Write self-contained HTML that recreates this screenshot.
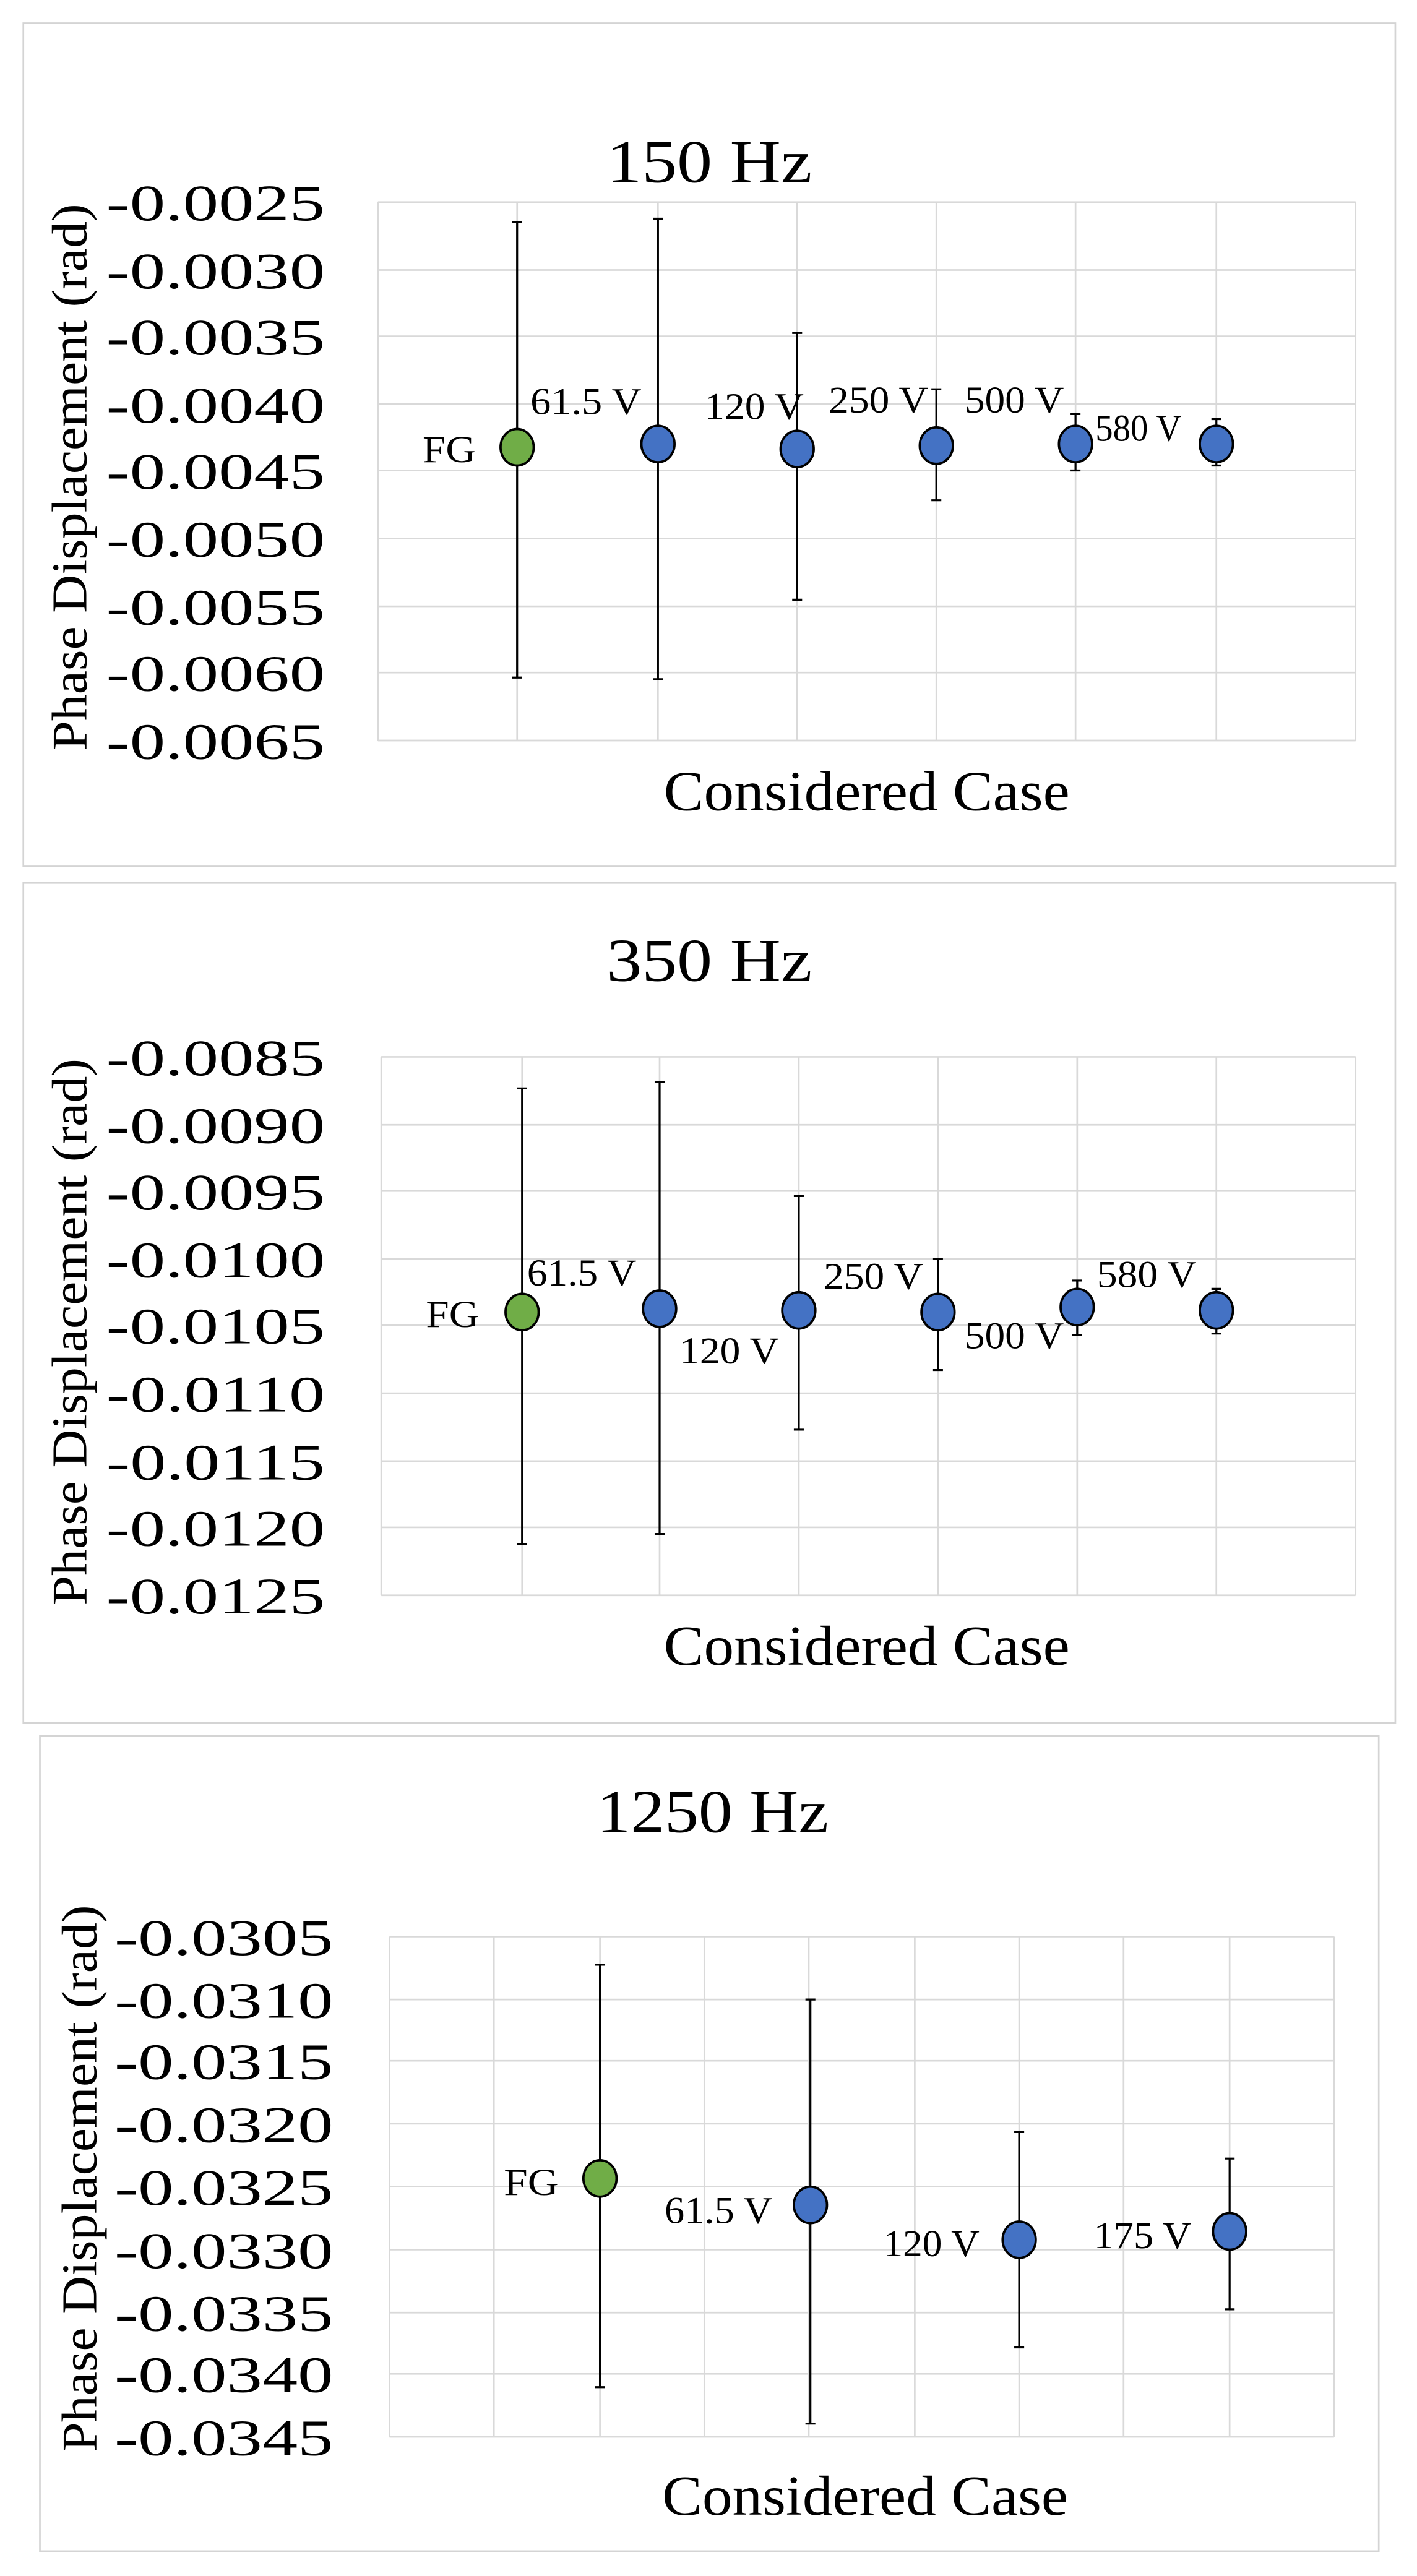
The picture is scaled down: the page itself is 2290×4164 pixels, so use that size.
<!DOCTYPE html>
<html><head><meta charset="utf-8"><style>html,body{margin:0;padding:0;background:#fff}svg{display:block}</style></head><body>
<svg width="2290" height="4164" viewBox="0 0 855 1555" xmlns="http://www.w3.org/2000/svg" font-family="'Liberation Serif', serif" fill="#000">
<rect width="855" height="1555" fill="#fff"/>
<!-- Chart 1 -->
<rect x="14" y="14" width="828" height="509" fill="#fff" stroke="#d4d4d4" stroke-width="1"/>
<text x="428" y="110" font-size="37" text-anchor="middle" textLength="124" lengthAdjust="spacingAndGlyphs">150 Hz</text>
<g stroke="#d9d9d9" stroke-width="1">
<line x1="228" y1="122" x2="818" y2="122"/><line x1="228" y1="163" x2="818" y2="163"/><line x1="228" y1="203" x2="818" y2="203"/><line x1="228" y1="244" x2="818" y2="244"/><line x1="228" y1="284" x2="818" y2="284"/><line x1="228" y1="325" x2="818" y2="325"/><line x1="228" y1="366" x2="818" y2="366"/><line x1="228" y1="406" x2="818" y2="406"/><line x1="228" y1="447" x2="818" y2="447"/>
<line x1="228" y1="122" x2="228" y2="447"/><line x1="312" y1="122" x2="312" y2="447"/><line x1="397" y1="122" x2="397" y2="447"/><line x1="481" y1="122" x2="481" y2="447"/><line x1="565" y1="122" x2="565" y2="447"/><line x1="649" y1="122" x2="649" y2="447"/><line x1="734" y1="122" x2="734" y2="447"/><line x1="818" y1="122" x2="818" y2="447"/>
</g>
<g font-size="31" text-anchor="end">
<text x="196" y="133" textLength="132" lengthAdjust="spacingAndGlyphs">-0.0025</text><text x="196" y="174" textLength="132" lengthAdjust="spacingAndGlyphs">-0.0030</text><text x="196" y="214" textLength="132" lengthAdjust="spacingAndGlyphs">-0.0035</text><text x="196" y="255" textLength="132" lengthAdjust="spacingAndGlyphs">-0.0040</text><text x="196" y="295" textLength="132" lengthAdjust="spacingAndGlyphs">-0.0045</text><text x="196" y="336" textLength="132" lengthAdjust="spacingAndGlyphs">-0.0050</text><text x="196" y="377" textLength="132" lengthAdjust="spacingAndGlyphs">-0.0055</text><text x="196" y="417" textLength="132" lengthAdjust="spacingAndGlyphs">-0.0060</text><text x="196" y="458" textLength="132" lengthAdjust="spacingAndGlyphs">-0.0065</text>
</g>
<text transform="translate(52,288) rotate(-90)" font-size="30" text-anchor="middle" textLength="330" lengthAdjust="spacingAndGlyphs">Phase Displacement (rad)</text>
<text x="523" y="489" font-size="34" text-anchor="middle" textLength="245" lengthAdjust="spacingAndGlyphs">Considered Case</text>
<g stroke="#000" stroke-width="1.2">
<line x1="312" y1="134" x2="312" y2="409"/><line x1="309" y1="134" x2="315" y2="134"/><line x1="309" y1="409" x2="315" y2="409"/>
<line x1="397" y1="132" x2="397" y2="410"/><line x1="394" y1="132" x2="400" y2="132"/><line x1="394" y1="410" x2="400" y2="410"/>
<line x1="481" y1="201" x2="481" y2="362"/><line x1="478" y1="201" x2="484" y2="201"/><line x1="478" y1="362" x2="484" y2="362"/>
<line x1="565" y1="235" x2="565" y2="302"/><line x1="562" y1="235" x2="568" y2="235"/><line x1="562" y1="302" x2="568" y2="302"/>
<line x1="649" y1="250" x2="649" y2="284"/><line x1="646" y1="250" x2="652" y2="250"/><line x1="646" y1="284" x2="652" y2="284"/>
<line x1="734" y1="253" x2="734" y2="281"/><line x1="731" y1="253" x2="737" y2="253"/><line x1="731" y1="281" x2="737" y2="281"/>
</g>
<g stroke="#000" stroke-width="1.4">
<ellipse cx="312" cy="270" rx="10" ry="11" fill="#70ad47"/>
<ellipse cx="397" cy="268" rx="10" ry="11" fill="#4472c4"/>
<ellipse cx="481" cy="271" rx="10" ry="11" fill="#4472c4"/>
<ellipse cx="565" cy="269" rx="10" ry="11" fill="#4472c4"/>
<ellipse cx="649" cy="268" rx="10" ry="11" fill="#4472c4"/>
<ellipse cx="734" cy="268" rx="10" ry="11" fill="#4472c4"/>
</g>
<g font-size="23">
<text x="255" y="279" textLength="32" lengthAdjust="spacingAndGlyphs">FG</text><text x="320" y="250" textLength="67" lengthAdjust="spacingAndGlyphs">61.5 V</text><text x="425" y="253" textLength="60" lengthAdjust="spacingAndGlyphs">120 V</text><text x="500" y="249" textLength="60" lengthAdjust="spacingAndGlyphs">250 V</text><text x="582" y="249" textLength="60" lengthAdjust="spacingAndGlyphs">500 V</text><text x="661" y="266" textLength="52" lengthAdjust="spacingAndGlyphs">580 V</text>
</g>
<!-- Chart 2 -->
<rect x="14" y="533" width="828" height="507" fill="#fff" stroke="#d4d4d4" stroke-width="1"/>
<text x="428" y="592" font-size="37" text-anchor="middle" textLength="124" lengthAdjust="spacingAndGlyphs">350 Hz</text>
<g stroke="#d9d9d9" stroke-width="1">
<line x1="230" y1="638" x2="818" y2="638"/><line x1="230" y1="679" x2="818" y2="679"/><line x1="230" y1="719" x2="818" y2="719"/><line x1="230" y1="760" x2="818" y2="760"/><line x1="230" y1="800" x2="818" y2="800"/><line x1="230" y1="841" x2="818" y2="841"/><line x1="230" y1="882" x2="818" y2="882"/><line x1="230" y1="922" x2="818" y2="922"/><line x1="230" y1="963" x2="818" y2="963"/>
<line x1="230" y1="638" x2="230" y2="963"/><line x1="315" y1="638" x2="315" y2="963"/><line x1="398" y1="638" x2="398" y2="963"/><line x1="482" y1="638" x2="482" y2="963"/><line x1="566" y1="638" x2="566" y2="963"/><line x1="650" y1="638" x2="650" y2="963"/><line x1="734" y1="638" x2="734" y2="963"/><line x1="818" y1="638" x2="818" y2="963"/>
</g>
<g font-size="31" text-anchor="end">
<text x="196" y="649" textLength="132" lengthAdjust="spacingAndGlyphs">-0.0085</text><text x="196" y="690" textLength="132" lengthAdjust="spacingAndGlyphs">-0.0090</text><text x="196" y="730" textLength="132" lengthAdjust="spacingAndGlyphs">-0.0095</text><text x="196" y="771" textLength="132" lengthAdjust="spacingAndGlyphs">-0.0100</text><text x="196" y="811" textLength="132" lengthAdjust="spacingAndGlyphs">-0.0105</text><text x="196" y="852" textLength="132" lengthAdjust="spacingAndGlyphs">-0.0110</text><text x="196" y="893" textLength="132" lengthAdjust="spacingAndGlyphs">-0.0115</text><text x="196" y="933" textLength="132" lengthAdjust="spacingAndGlyphs">-0.0120</text><text x="196" y="974" textLength="132" lengthAdjust="spacingAndGlyphs">-0.0125</text>
</g>
<text transform="translate(52,804) rotate(-90)" font-size="30" text-anchor="middle" textLength="330" lengthAdjust="spacingAndGlyphs">Phase Displacement (rad)</text>
<text x="523" y="1005" font-size="34" text-anchor="middle" textLength="245" lengthAdjust="spacingAndGlyphs">Considered Case</text>
<g stroke="#000" stroke-width="1.2">
<line x1="315" y1="657" x2="315" y2="932"/><line x1="312" y1="657" x2="318" y2="657"/><line x1="312" y1="932" x2="318" y2="932"/>
<line x1="398" y1="653" x2="398" y2="926"/><line x1="395" y1="653" x2="401" y2="653"/><line x1="395" y1="926" x2="401" y2="926"/>
<line x1="482" y1="722" x2="482" y2="863"/><line x1="479" y1="722" x2="485" y2="722"/><line x1="479" y1="863" x2="485" y2="863"/>
<line x1="566" y1="760" x2="566" y2="827"/><line x1="563" y1="760" x2="569" y2="760"/><line x1="563" y1="827" x2="569" y2="827"/>
<line x1="650" y1="773" x2="650" y2="806"/><line x1="647" y1="773" x2="653" y2="773"/><line x1="647" y1="806" x2="653" y2="806"/>
<line x1="734" y1="778" x2="734" y2="805"/><line x1="731" y1="778" x2="737" y2="778"/><line x1="731" y1="805" x2="737" y2="805"/>
</g>
<g stroke="#000" stroke-width="1.4">
<ellipse cx="315" cy="792" rx="10" ry="11" fill="#70ad47"/>
<ellipse cx="398" cy="790" rx="10" ry="11" fill="#4472c4"/>
<ellipse cx="482" cy="791" rx="10" ry="11" fill="#4472c4"/>
<ellipse cx="566" cy="792" rx="10" ry="11" fill="#4472c4"/>
<ellipse cx="650" cy="789" rx="10" ry="11" fill="#4472c4"/>
<ellipse cx="734" cy="791" rx="10" ry="11" fill="#4472c4"/>
</g>
<g font-size="23">
<text x="257" y="801" textLength="32" lengthAdjust="spacingAndGlyphs">FG</text><text x="318" y="776" textLength="66" lengthAdjust="spacingAndGlyphs">61.5 V</text><text x="410" y="823" textLength="60" lengthAdjust="spacingAndGlyphs">120 V</text><text x="497" y="778" textLength="60" lengthAdjust="spacingAndGlyphs">250 V</text><text x="582" y="814" textLength="60" lengthAdjust="spacingAndGlyphs">500 V</text><text x="662" y="777" textLength="60" lengthAdjust="spacingAndGlyphs">580 V</text>
</g>
<!-- Chart 3 -->
<rect x="24" y="1048" width="808" height="492" fill="#fff" stroke="#d4d4d4" stroke-width="1"/>
<text x="430" y="1106" font-size="37" text-anchor="middle" textLength="140" lengthAdjust="spacingAndGlyphs">1250 Hz</text>
<g stroke="#d9d9d9" stroke-width="1">
<line x1="235" y1="1169" x2="805" y2="1169"/><line x1="235" y1="1207" x2="805" y2="1207"/><line x1="235" y1="1244" x2="805" y2="1244"/><line x1="235" y1="1282" x2="805" y2="1282"/><line x1="235" y1="1320" x2="805" y2="1320"/><line x1="235" y1="1358" x2="805" y2="1358"/><line x1="235" y1="1396" x2="805" y2="1396"/><line x1="235" y1="1433" x2="805" y2="1433"/><line x1="235" y1="1471" x2="805" y2="1471"/>
<line x1="235" y1="1169" x2="235" y2="1471"/><line x1="298" y1="1169" x2="298" y2="1471"/><line x1="362" y1="1169" x2="362" y2="1471"/><line x1="425" y1="1169" x2="425" y2="1471"/><line x1="488" y1="1169" x2="488" y2="1471"/><line x1="552" y1="1169" x2="552" y2="1471"/><line x1="615" y1="1169" x2="615" y2="1471"/><line x1="678" y1="1169" x2="678" y2="1471"/><line x1="742" y1="1169" x2="742" y2="1471"/><line x1="805" y1="1169" x2="805" y2="1471"/>
</g>
<g font-size="31" text-anchor="end">
<text x="201" y="1180" textLength="132" lengthAdjust="spacingAndGlyphs">-0.0305</text><text x="201" y="1218" textLength="132" lengthAdjust="spacingAndGlyphs">-0.0310</text><text x="201" y="1255" textLength="132" lengthAdjust="spacingAndGlyphs">-0.0315</text><text x="201" y="1293" textLength="132" lengthAdjust="spacingAndGlyphs">-0.0320</text><text x="201" y="1331" textLength="132" lengthAdjust="spacingAndGlyphs">-0.0325</text><text x="201" y="1369" textLength="132" lengthAdjust="spacingAndGlyphs">-0.0330</text><text x="201" y="1407" textLength="132" lengthAdjust="spacingAndGlyphs">-0.0335</text><text x="201" y="1444" textLength="132" lengthAdjust="spacingAndGlyphs">-0.0340</text><text x="201" y="1482" textLength="132" lengthAdjust="spacingAndGlyphs">-0.0345</text>
</g>
<text transform="translate(58,1315) rotate(-90)" font-size="30" text-anchor="middle" textLength="330" lengthAdjust="spacingAndGlyphs">Phase Displacement (rad)</text>
<text x="522" y="1518" font-size="34" text-anchor="middle" textLength="245" lengthAdjust="spacingAndGlyphs">Considered Case</text>
<g stroke="#000" stroke-width="1.2">
<line x1="362" y1="1186" x2="362" y2="1441"/><line x1="359" y1="1186" x2="365" y2="1186"/><line x1="359" y1="1441" x2="365" y2="1441"/>
<line x1="489" y1="1207" x2="489" y2="1463"/><line x1="486" y1="1207" x2="492" y2="1207"/><line x1="486" y1="1463" x2="492" y2="1463"/>
<line x1="615" y1="1287" x2="615" y2="1417"/><line x1="612" y1="1287" x2="618" y2="1287"/><line x1="612" y1="1417" x2="618" y2="1417"/>
<line x1="742" y1="1303" x2="742" y2="1394"/><line x1="739" y1="1303" x2="745" y2="1303"/><line x1="739" y1="1394" x2="745" y2="1394"/>
</g>
<g stroke="#000" stroke-width="1.4">
<ellipse cx="362" cy="1315" rx="10" ry="11" fill="#70ad47"/>
<ellipse cx="489" cy="1331" rx="10" ry="11" fill="#4472c4"/>
<ellipse cx="615" cy="1352" rx="10" ry="11" fill="#4472c4"/>
<ellipse cx="742" cy="1347" rx="10" ry="11" fill="#4472c4"/>
</g>
<g font-size="23">
<text x="304" y="1325" textLength="33" lengthAdjust="spacingAndGlyphs">FG</text><text x="401" y="1342" textLength="65" lengthAdjust="spacingAndGlyphs">61.5 V</text><text x="533" y="1362" textLength="58" lengthAdjust="spacingAndGlyphs">120 V</text><text x="660" y="1357" textLength="59" lengthAdjust="spacingAndGlyphs">175 V</text>
</g>
</svg>
</body></html>
